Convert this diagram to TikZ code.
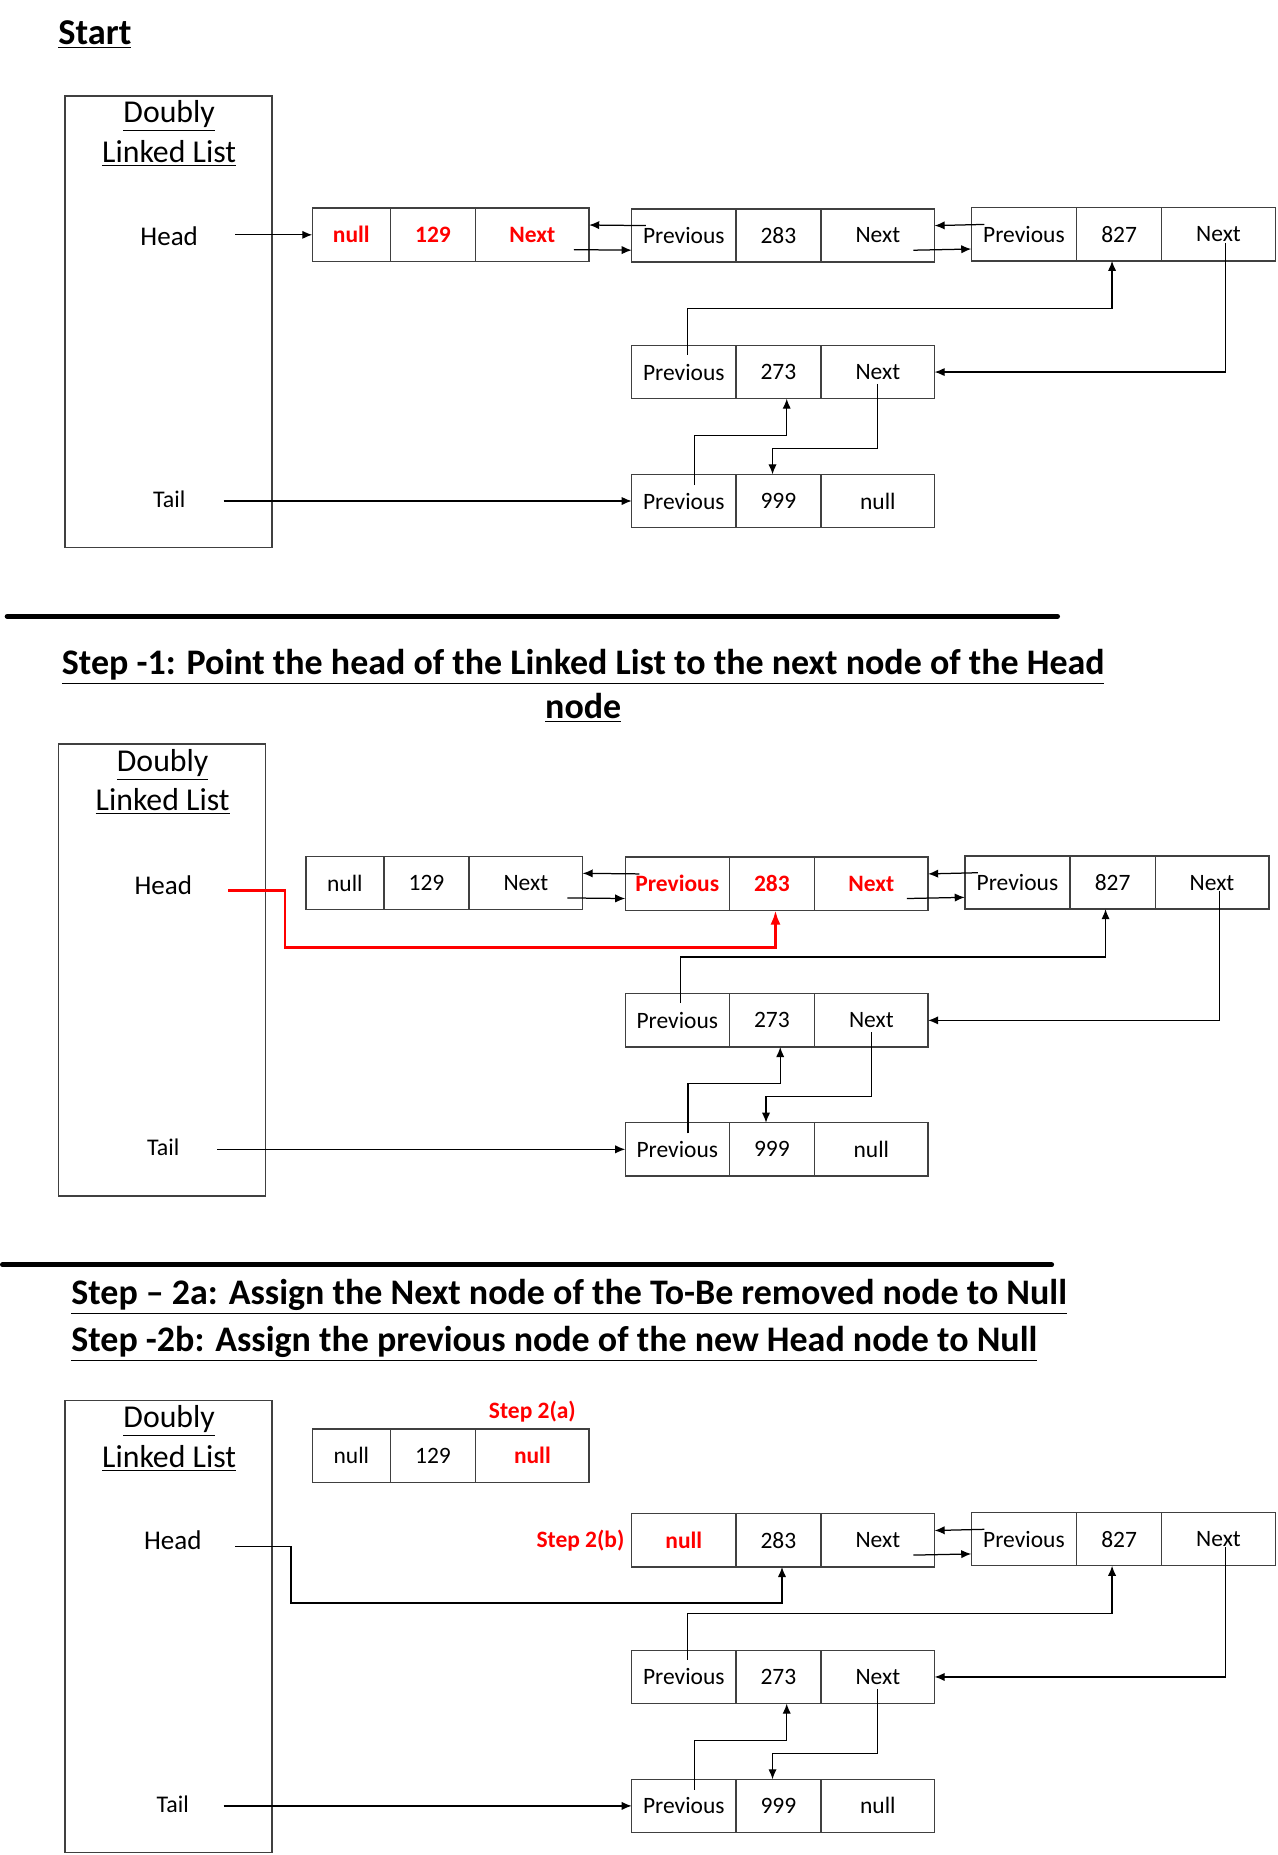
\documentclass[tikz,border=0pt]{standalone}
\usepackage{fontspec}
\setmainfont{Carlito}
\usetikzlibrary{arrows.meta,positioning}
\definecolor{HotRed}{RGB}{255,0,0}
\definecolor{LineGray}{RGB}{64,64,64}

\begin{document}
\begin{tikzpicture}[
    x=0.2mm,y=-0.2mm,
    >={Latex[length=1.7mm,width=1.4mm]},
    cell/.style={
      draw=LineGray,line width=0.7pt,minimum height=9mm,
      inner sep=0pt,outer sep=0pt,font=\fontsize{11.3}{13}\selectfont
    },
    wp/.style={cell,minimum width=17.6mm},
    wv/.style={cell,minimum width=14.4mm},
    wn/.style={cell,minimum width=19.2mm},
    hot/.style={text=HotRed,font=\fontsize{11.3}{13}\selectfont\bfseries},
    link/.style={->,line width=0.6pt},
    redlink/.style={-{Latex[length=2.4mm,width=1.7mm]},line width=1.3pt,HotRed},
    frame/.style={
      draw=LineGray,line width=0.7pt,minimum width=35mm,
      minimum height=76.4mm,inner sep=0pt
    },
    caption/.style={align=center,font=\fontsize{15.3}{19}\selectfont,inner sep=0pt},
    lbl/.style={font=\fontsize{13}{15}\selectfont},
    taillbl/.style={font=\fontsize{11.5}{14}\selectfont},
    bar/.style={line width=0.8mm,line cap=round},
    heading/.style={font=\fontsize{17.3}{21.2}\selectfont\bfseries,inner sep=0pt}
  ]
  \useasboundingbox (0,0) rectangle (1080,1568);

  % ---------------- Start ----------------
  \node[heading,font=\fontsize{17.5}{20}\selectfont\bfseries,anchor=west] (start) at (49,29) {\underline{Start}};
  \node[frame] (dll1) at (142.5,272) {};
  \node[caption] (cap1) at (143,113) {\underline{Doubly}\\\underline{Linked List}};
  \node[lbl] (head1) at (143,200) {Head};
  \node[taillbl] (tail1) at (143,422) {Tail};
  \coordinate (h1) at (199,198.5);
  \coordinate (t1) at (189,423.5);

  \node[cell,minimum width=13.2mm,anchor=west,hot] (a1p) at (264,198.5) {null};
  \node[wv,right=0pt of a1p,hot] (a1v) {129};
  \node[wn,right=0pt of a1v,hot] (a1n) {Next};
  \node[wp,anchor=west] (b1p) at (534,199) {Previous};
  \node[wv,right=0pt of b1p] (b1v) {283};
  \node[wn,right=0pt of b1v] (b1n) {Next};
  \node[wp,minimum width=17.8mm,anchor=west] (c1p) at (821,198) {Previous};
  \node[wv,right=0pt of c1p] (c1v) {827};
  \node[wn,right=0pt of c1v] (c1n) {Next};
  \node[wp,anchor=west] (d1p) at (534,314.5) {Previous};
  \node[wv,right=0pt of d1p] (d1v) {273};
  \node[wn,right=0pt of d1v] (d1n) {Next};
  \node[wp,anchor=west] (e1p) at (534,423.5) {Previous};
  \node[wv,right=0pt of e1p] (e1v) {999};
  \node[wn,right=0pt of e1v] (e1n) {null};

  \draw[link] (h1) -- (a1p.west);
  \draw[link] ([shift={(2.4mm,1.66mm)}]b1p.west) -- ([yshift=1.66mm]a1n.east);
  \draw[link] ([shift={(-2.6mm,-2.5mm)}]a1n.east) -- ([yshift=-2.5mm]b1p.west);
  \draw[link] ([shift={(2.2mm,1.66mm)}]c1p.west) -- ([yshift=1.66mm]b1n.east);
  \draw[link] ([shift={(-3.6mm,-2.5mm)}]b1n.east) -- ([yshift=-2.5mm]c1p.west);
  \draw[link] ([shift={(0.6mm,-1.6mm)}]d1p.north) -- ++(0,7.8mm) -| ([xshift=-1.2mm]c1v.south);
  \draw[link] ([shift={(1.2mm,-1.4mm)}]c1n.center) |- (d1n.east);
  \draw[link] ([shift={(1.8mm,-1.8mm)}]e1p.north) -- ++(0,8.4mm) -| ([xshift=1.4mm]d1v.south);
  \draw[link] ([yshift=-2mm]d1n.center) -- ++(0,-10.9mm) -| ([xshift=-1mm]e1v.north);
  \draw[link] (t1) -- (e1p.west);

  \draw[bar] (6,521) -- (894,521);

  % ---------------- Step 1 ----------------
  \node[heading,align=center] (step1) at (493,580) {\underline{Step -1: Point the head of the Linked List to the next node of the Head}\\\underline{node}};
  \begin{scope}[shift={(-5.5,548)}]
    \node[frame] (dll2) at (142.5,272) {};
    \node[caption] (cap2) at (143,113) {\underline{Doubly}\\\underline{Linked List}};
    \node[lbl] (head2) at (143.5,200) {Head};
    \node[taillbl] (tail2) at (143.5,422) {Tail};
    \coordinate (h2) at (198.5,205);
    \coordinate (t2) at (189,423.5);

    \node[cell,minimum width=13.2mm,anchor=west] (a2p) at (264,198.5) {null};
    \node[wv,right=0pt of a2p] (a2v) {129};
    \node[wn,right=0pt of a2v] (a2n) {Next};
    \node[wp,anchor=west,hot] (b2p) at (534,199) {Previous};
    \node[wv,right=0pt of b2p,hot] (b2v) {283};
    \node[wn,right=0pt of b2v,hot] (b2n) {Next};
    \node[wp,minimum width=17.8mm,anchor=west] (c2p) at (821,198) {Previous};
    \node[wv,right=0pt of c2p] (c2v) {827};
    \node[wn,right=0pt of c2v] (c2n) {Next};
    \node[wp,anchor=west] (d2p) at (534,314.5) {Previous};
    \node[wv,right=0pt of d2p] (d2v) {273};
    \node[wn,right=0pt of d2v] (d2n) {Next};
    \node[wp,anchor=west] (e2p) at (534,423.5) {Previous};
    \node[wv,right=0pt of e2p] (e2v) {999};
    \node[wn,right=0pt of e2v] (e2n) {null};

    \draw[redlink] (h2) -| ++(48,48) -| ([xshift=0.6mm]b2v.south);
    \draw[link] ([shift={(2.4mm,1.66mm)}]b2p.west) -- ([yshift=1.66mm]a2n.east);
    \draw[link] ([shift={(-2.6mm,-2.5mm)}]a2n.east) -- ([yshift=-2.5mm]b2p.west);
    \draw[link] ([shift={(2.2mm,1.66mm)}]c2p.west) -- ([yshift=1.66mm]b2n.east);
    \draw[link] ([shift={(-3.6mm,-2.5mm)}]b2n.east) -- ([yshift=-2.5mm]c2p.west);
    \draw[link] ([shift={(0.6mm,-1.6mm)}]d2p.north) -- ++(0,7.8mm) -| ([xshift=-1.2mm]c2v.south);
    \draw[link] ([shift={(1.2mm,-1.4mm)}]c2n.center) |- (d2n.east);
    \draw[link] ([shift={(1.8mm,-1.8mm)}]e2p.north) -- ++(0,8.4mm) -| ([xshift=1.4mm]d2v.south);
    \draw[link] ([yshift=-2mm]d2n.center) -- ++(0,-10.9mm) -| ([xshift=-1mm]e2v.north);
    \draw[link] (t2) -- (e2p.west);
  \end{scope}

  \draw[bar] (2,1069) -- (889,1069);

  % ---------------- Step 2a / 2b ----------------
  \node[heading,anchor=west] (step2a) at (60,1096) {\underline{Step – 2a: Assign the Next node of the To-Be removed node to Null}};
  \node[heading,anchor=west] (step2b) at (60,1136) {\underline{Step -2b: Assign the previous node of the new Head node to Null}};
  \begin{scope}[shift={(0,1103)}]
    \node[frame] (dll3) at (142.5,272) {};
    \node[caption] (cap3) at (143,113) {\underline{Doubly}\\\underline{Linked List}};
    \node[lbl] (head3) at (146,199) {Head};
    \node[taillbl] (tail3) at (146,422) {Tail};
    \coordinate (h3) at (199,204);
    \coordinate (t3) at (189,423.5);

    \node[cell,minimum width=13.2mm,anchor=west] (a3p) at (264,127.5) {null};
    \node[wv,right=0pt of a3p] (a3v) {129};
    \node[wn,right=0pt of a3v,hot] (a3n) {null};
    \node[hot,above=0pt of a3n] (lbl2a) {Step 2(a)};
    \node[wp,anchor=west,hot] (b3p) at (534,199) {null};
    \node[wv,right=0pt of b3p] (b3v) {283};
    \node[wn,right=0pt of b3v] (b3n) {Next};
    \node[hot,left=0pt of b3p] (lbl2b) {Step 2(b)};
    \node[wp,minimum width=17.8mm,anchor=west] (c3p) at (821,198) {Previous};
    \node[wv,right=0pt of c3p] (c3v) {827};
    \node[wn,right=0pt of c3v] (c3n) {Next};
    \node[wp,anchor=west] (d3p) at (534,314.5) {Previous};
    \node[wv,right=0pt of d3p] (d3v) {273};
    \node[wn,right=0pt of d3v] (d3n) {Next};
    \node[wp,anchor=west] (e3p) at (534,423.5) {Previous};
    \node[wv,right=0pt of e3p] (e3v) {999};
    \node[wn,right=0pt of e3v] (e3n) {null};

    \draw[link] (h3) -| ++(47,48) -| ([xshift=0.6mm]b3v.south);
    \draw[link] ([shift={(2.2mm,1.66mm)}]c3p.west) -- ([yshift=1.66mm]b3n.east);
    \draw[link] ([shift={(-3.6mm,-2.5mm)}]b3n.east) -- ([yshift=-2.5mm]c3p.west);
    \draw[link] ([shift={(0.6mm,-1.6mm)}]d3p.north) -- ++(0,7.8mm) -| ([xshift=-1.2mm]c3v.south);
    \draw[link] ([shift={(1.2mm,-1.4mm)}]c3n.center) |- (d3n.east);
    \draw[link] ([shift={(1.8mm,-1.8mm)}]e3p.north) -- ++(0,8.4mm) -| ([xshift=1.4mm]d3v.south);
    \draw[link] ([yshift=-2mm]d3n.center) -- ++(0,-10.9mm) -| ([xshift=-1mm]e3v.north);
    \draw[link] (t3) -- (e3p.west);
  \end{scope}
\end{tikzpicture}
\end{document}
